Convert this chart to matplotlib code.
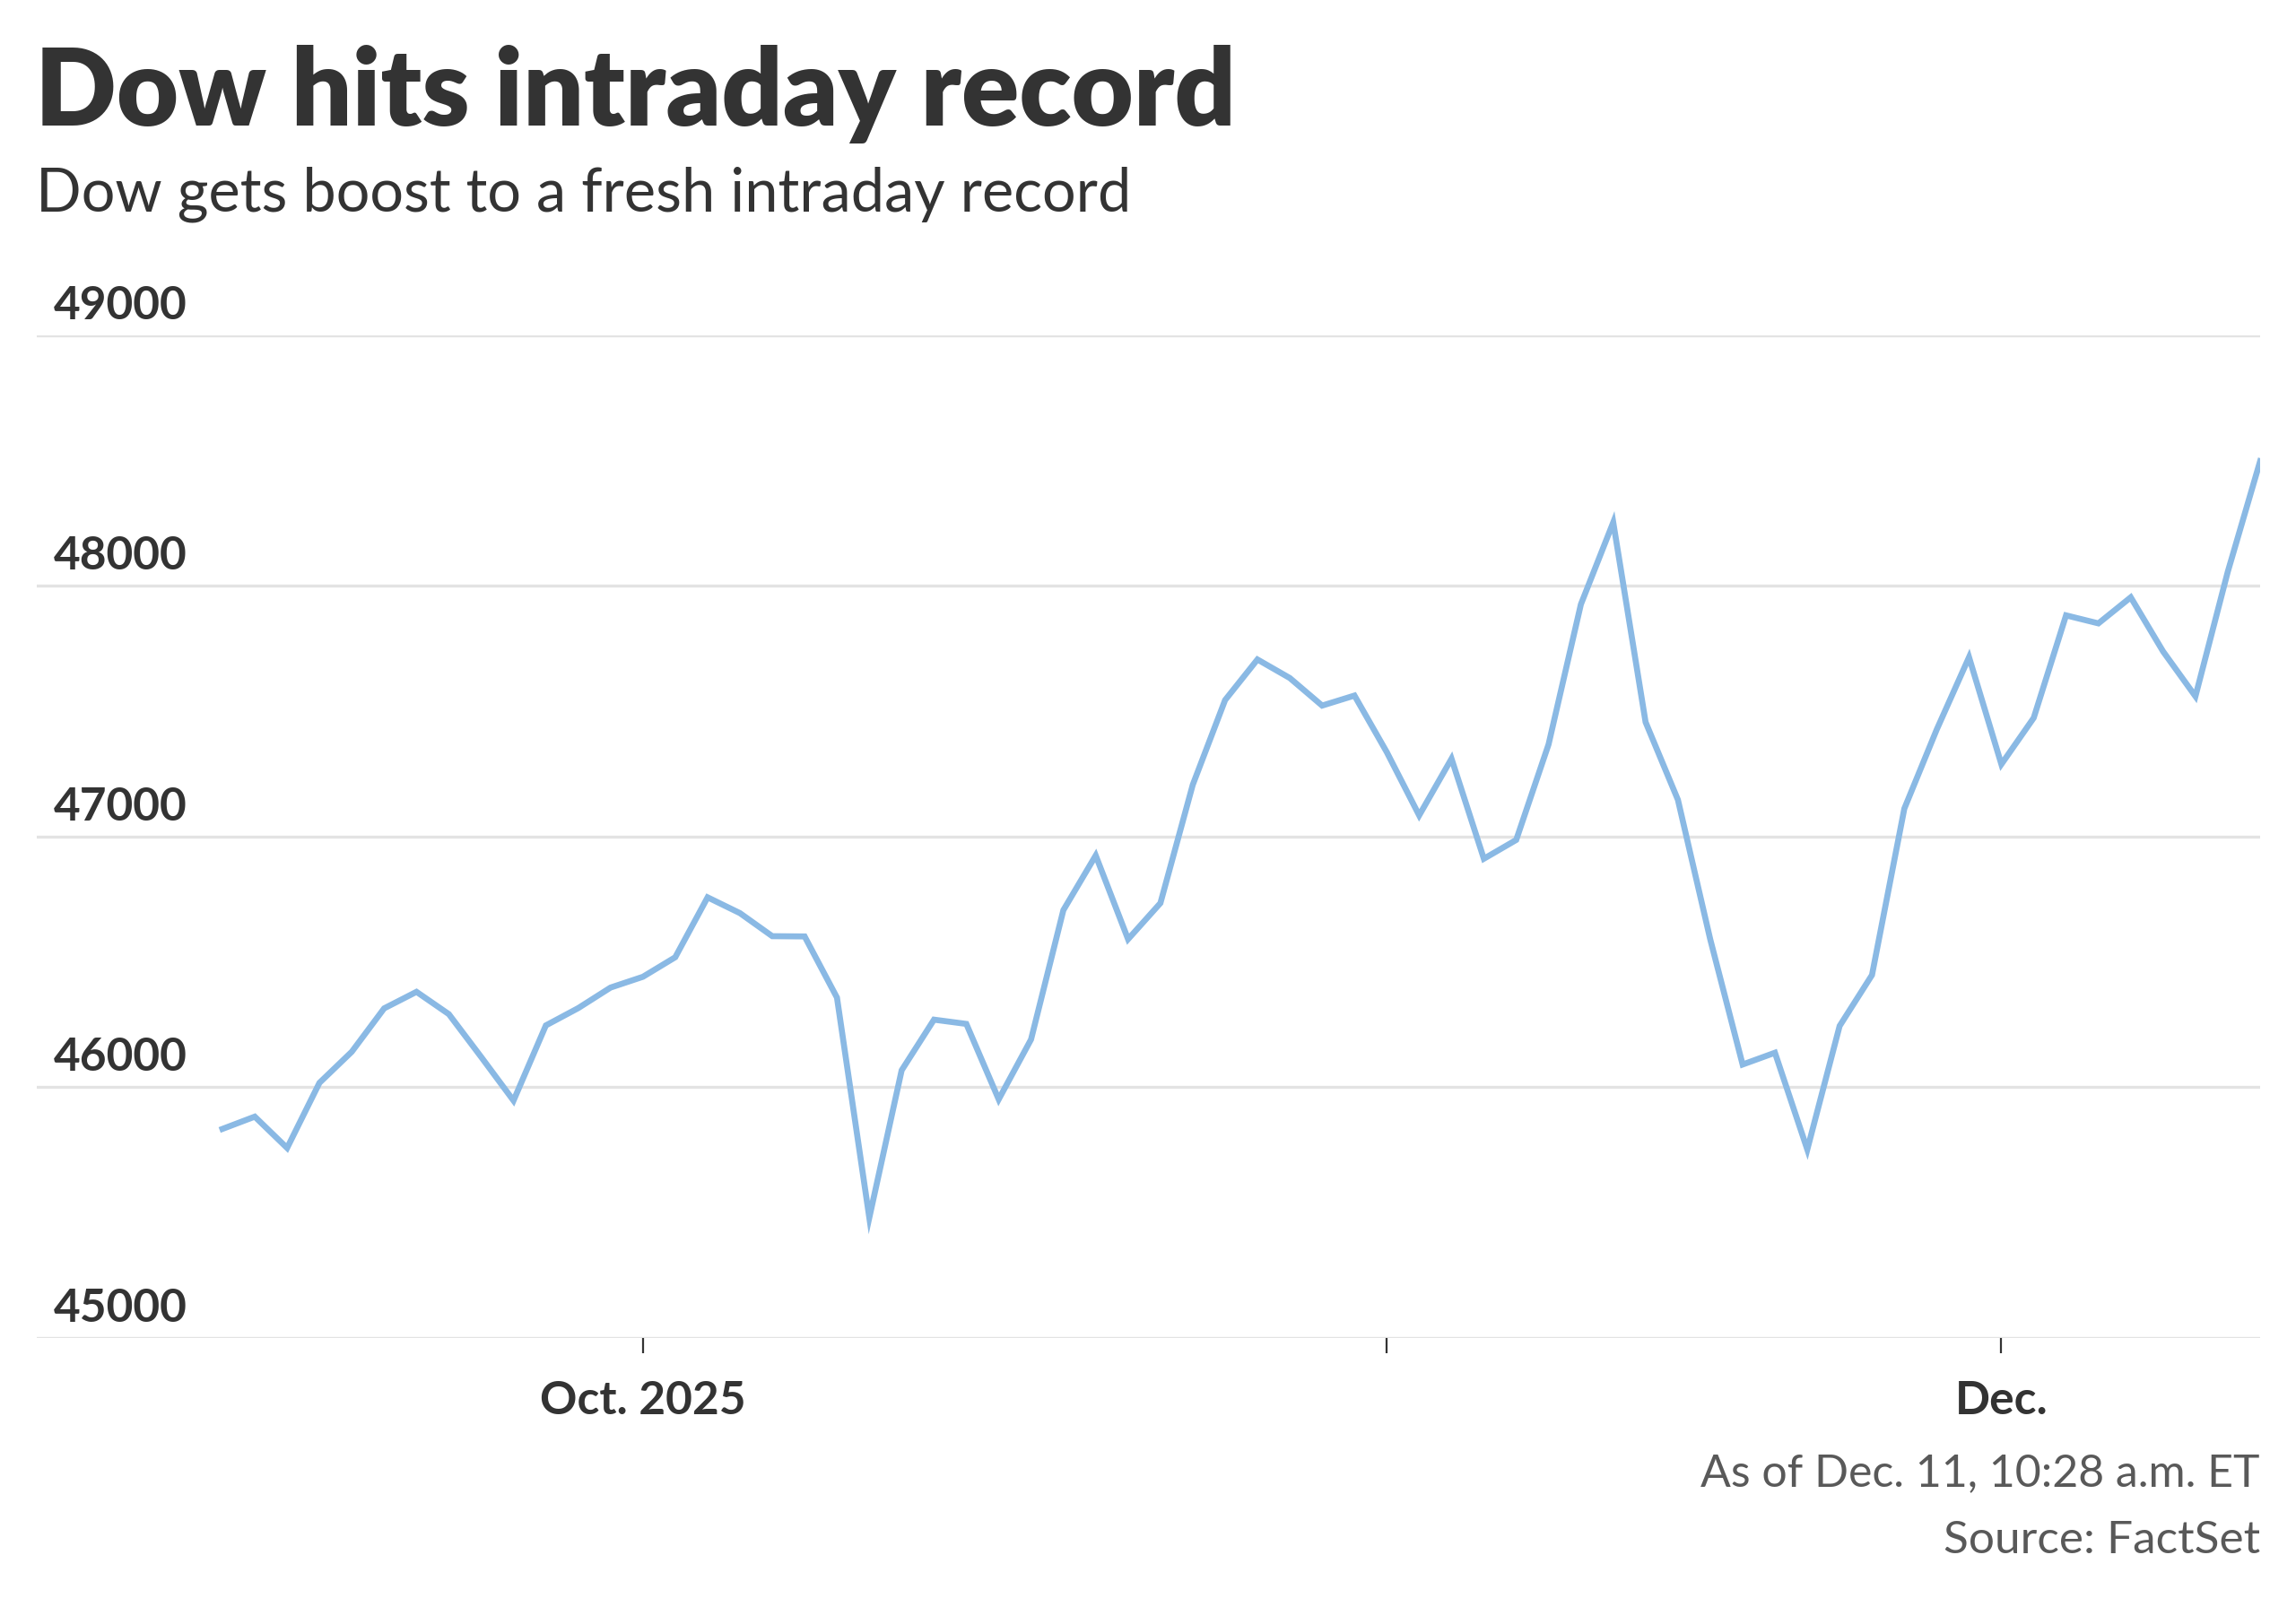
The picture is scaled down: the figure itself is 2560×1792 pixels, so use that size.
import matplotlib
matplotlib.use("Agg")
import matplotlib.pyplot as plt

# ---- data (Dow daily values) ----
dates = ["Sep 12", "Sep 15", "Sep 16", "Sep 17", "Sep 18", "Sep 19", "Sep 22", "Sep 23",
         "Sep 24", "Sep 25", "Sep 26", "Sep 29", "Sep 30", "Oct 1", "Oct 2", "Oct 3",
         "Oct 6", "Oct 7", "Oct 8", "Oct 9", "Oct 10", "Oct 13", "Oct 14", "Oct 15",
         "Oct 16", "Oct 17", "Oct 20", "Oct 21", "Oct 22", "Oct 23", "Oct 24", "Oct 27",
         "Oct 28", "Oct 29", "Oct 30", "Oct 31", "Nov 3", "Nov 4", "Nov 5", "Nov 6",
         "Nov 7", "Nov 10", "Nov 11", "Nov 12", "Nov 13", "Nov 14", "Nov 17", "Nov 18",
         "Nov 19", "Nov 20", "Nov 21", "Nov 24", "Nov 25", "Nov 26", "Nov 28", "Dec 1",
         "Dec 2", "Dec 3", "Dec 4", "Dec 5", "Dec 8", "Dec 9", "Dec 10", "Dec 11"]
dow = [45834, 45883, 45758, 46018, 46142, 46315, 46381, 46292,
       46121, 45947, 46247, 46316, 46398, 46441, 46519, 46758,
       46695, 46603, 46602, 46358, 45480, 46068, 46270, 46253,
       45952, 46191, 46707, 46925, 46591, 46735, 47207, 47545,
       47707, 47633, 47523, 47563, 47337, 47085, 47311, 46912,
       46987, 47368, 47927, 48254, 47457, 47147, 46590, 46091,
       46138, 45752, 46245, 46448, 47112, 47427, 47716, 47289,
       47474, 47883, 47851, 47955, 47739, 47560, 48057, 48498]

y_ticks = [45000, 46000, 47000, 48000, 49000]
x_tick_dates = ["Oct 1", "Nov 3", "Dec 1"]
x_tick_labels = ["Oct. 2025", "", "Dec."]

title = "Dow hits intraday record"
subtitle = "Dow gets boost to a fresh intraday record"
note = "As of Dec. 11, 10:28 a.m. ET"
source = "Source: FactSet"

# ---- styling ----
W, H = 2560, 1792
FONT = "Lato"
DARK = "#333333"
GREY = "#595959"
LINE = "#8ab9e4"
GRID = "#e3e3e3"

plt.rcParams["font.family"] = [FONT, "DejaVu Sans"]

fig = plt.figure(figsize=(W / 100, H / 100), dpi=100)
fig.patch.set_facecolor("white")

# axes placed by pixel box of the gridlines
left_px, right_px = 41, 2520
top_px, bottom_px = 374, 1492
ax = fig.add_axes([left_px / W, 1 - bottom_px / H,
                   (right_px - left_px) / W, (bottom_px - top_px) / H])

xs = list(range(len(dow)))
ax.plot(xs, dow, color=LINE, lw=4.8, solid_joinstyle="miter", zorder=3)

# first point sits ~207px right of the axes' left edge
step = (right_px - 248) / (len(dow) - 1)
ax.set_xlim(-(248 - left_px) / step, len(dow) - 1)
ax.set_ylim(y_ticks[0], y_ticks[-1])

for s in ax.spines.values():
    s.set_visible(False)

# gridlines + y labels sitting above them
ax.set_yticks(y_ticks)
ax.yaxis.grid(True, color=GRID, lw=2.4)
ax.tick_params(axis="y", length=0, labelleft=False)
ax.set_axisbelow(True)
for v in y_ticks:
    ax.annotate(str(v), xy=((60 - left_px) / (right_px - left_px), v),
                xycoords=ax.get_yaxis_transform(), xytext=(0, 13),
                textcoords="offset points", ha="left", va="baseline",
                fontsize=37, fontweight="bold", color=DARK)

# x ticks at month starts (trading-day index)
ax.set_xticks([dates.index(d) for d in x_tick_dates])
ax.set_xticklabels(x_tick_labels, fontsize=37, fontweight="bold", color=DARK)
ax.tick_params(axis="x", length=12, width=1.6, color=DARK, pad=22)

# ---- header / footer ----
fig.text(39 / W, 1 - 140 / H, title, ha="left", va="baseline",
         fontsize=86, fontweight="heavy", color=DARK)
fig.text(40 / W, 1 - 235 / H, subtitle, ha="left", va="baseline",
         fontsize=48, color=DARK)
fig.text(right_px / W, 1 - 1657 / H, note, ha="right", va="baseline",
         fontsize=36, color=GREY)
fig.text(right_px / W, 1 - 1732 / H, source, ha="right", va="baseline",
         fontsize=37, color=GREY)

fig.savefig("out.png", dpi=100, facecolor="white")
